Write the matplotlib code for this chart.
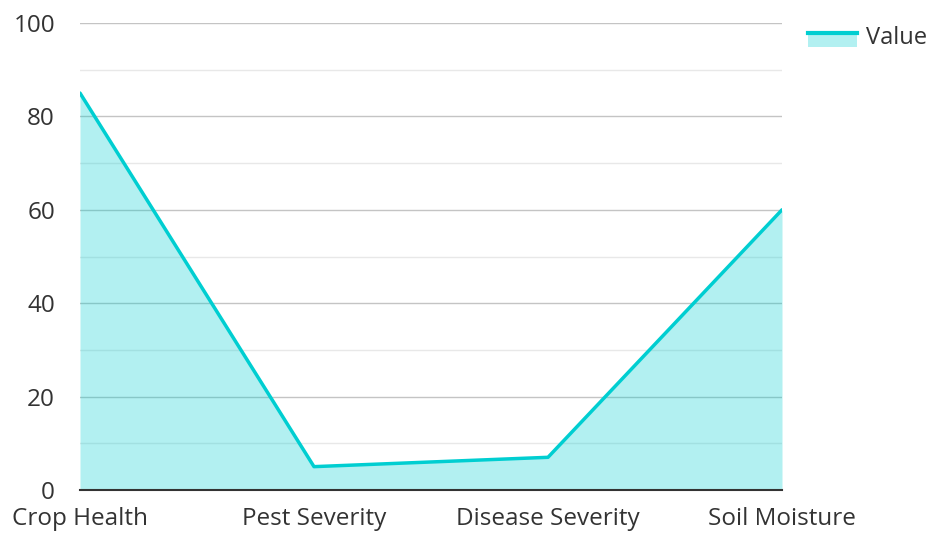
import matplotlib
matplotlib.use('Agg')
from matplotlib import pyplot as plt
from matplotlib.patches import Rectangle
from matplotlib.lines import Line2D
from matplotlib.legend_handler import HandlerBase
from matplotlib.ticker import MultipleLocator

# data
categories = ['Crop Health', 'Pest Severity', 'Disease Severity', 'Soil Moisture']
values = [85, 5, 7, 60]

line_col = '#00CED1'
txt_col = '#333333'

plt.rcParams['font.family'] = ['Open Sans', 'DejaVu Sans']


class AreaHandler(HandlerBase):
    # filled box with the line along its top edge
    def create_artists(self, legend, orig, xd, yd, w, h, fontsize, trans):
        top = yd + h * 0.72
        bot = yd - h * 0.2
        r = Rectangle((xd, bot), w, top - bot, facecolor=line_col, alpha=0.3,
                      linewidth=0, transform=trans)
        l = Line2D([xd, xd + w], [top - 1, top - 1], color=line_col, linewidth=3,
                   transform=trans)
        return [r, l]


fig = plt.figure(figsize=(9.32, 5.33), dpi=100)
ax = fig.add_axes([80/932, 43/533, 702/932, 467/533])

x = list(range(len(categories)))
ax.fill_between(x, values, 0, color=line_col, alpha=0.3, linewidth=0)
ax.plot(x, values, color=line_col, linewidth=2.5, solid_capstyle='round')

ax.set_xlim(0, len(categories)-1)
ax.set_ylim(0, 100)
ax.set_xticks(x)
ax.set_xticklabels(categories)
ax.yaxis.set_major_locator(MultipleLocator(20))
ax.yaxis.set_minor_locator(MultipleLocator(10))
ax.grid(which='major', axis='y', color='#c4c4c4', linewidth=1)
ax.grid(which='minor', axis='y', color='#e8e8e8', linewidth=1)
ax.set_axisbelow(True)
ax.tick_params(axis='both', which='both', length=0, labelsize=17.5, colors=txt_col)
ax.tick_params(axis='y', pad=18)
ax.tick_params(axis='x', pad=12)
for s in ['top', 'right', 'left']:
    ax.spines[s].set_visible(False)
ax.spines['bottom'].set_color(txt_col)
ax.spines['bottom'].set_linewidth(1.5)

leg = fig.legend([object()], ['Value'], loc='upper left', bbox_to_anchor=(0.844, 0.992),
                 frameon=False, fontsize=17, handlelength=2.1, handletextpad=0.35,
                 handler_map={object: AreaHandler()})
for t in leg.get_texts():
    t.set_color(txt_col)

plt.savefig('out.png', dpi=100)
